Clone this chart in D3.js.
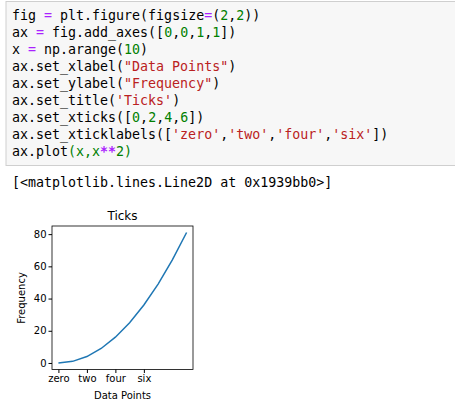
<!DOCTYPE html><html><head><script src="https://cdn.jsdelivr.net/npm/d3@7"></script>
<style>body{margin:0;background:#fff}</style></head><body><svg id="s" width="455" height="410"></svg>
<script>
const xs=[0,1,2,3,4,5,6,7,8,9];
const ys=[0,1,4,9,16,25,36,49,64,81];
const xtickVals=[0,2,4,6];
const xtickLabels=['zero','two','four','six'];
const ytickVals=[0,20,40,60,80];
const codeLines=[
 [["fig ","k"],["=","o"],[" plt.figure(figsize","k"],["=","o"],["(","k"],["2","n"],[",","k"],["2","n"],["))","k"]],
 [["ax ","k"],["=","o"],[" fig.add_axes([","k"],["0","n"],[",","k"],["0","n"],[",","k"],["1","n"],[",","k"],["1","n"],["])","k"]],
 [["x ","k"],["=","o"],[" np.arange(","k"],["10","n"],[")","k"]],
 [["ax.set_xlabel(","k"],["\"Data Points\"","s"],[")","k"]],
 [["ax.set_ylabel(","k"],["\"Frequency\"","s"],[")","k"]],
 [["ax.set_title(","k"],["'Ticks'","s"],[")","k"]],
 [["ax.set_xticks([","k"],["0","n"],[",","k"],["2","n"],[",","k"],["4","n"],[",","k"],["6","n"],["])","k"]],
 [["ax.set_xticklabels([","k"],["'zero'","s"],[",","k"],["'two'","s"],[",","k"],["'four'","s"],[",","k"],["'six'","s"],["])","k"]],
 [["ax.plot","k"],["(x,x","g"],["**","o"],["2)","g"]]
];
const col={k:"#000",o:"#AA22FF",n:"#008000",s:"#BA2121",g:"#008000"};
const svg=d3.select("#s");
svg.append("rect").attr("x",6).attr("y",1.5).attr("width",460).attr("height",164).attr("fill","#f7f7f7").attr("stroke","#cfcfcf");
codeLines.forEach((ln,i)=>{
 const t=svg.append("text").attr("x",12).attr("y",20+i*17).attr("font-family","DejaVu Sans Mono").attr("font-size",13.3).attr("xml:space","preserve");
 ln.forEach(([s,c])=>t.append("tspan").attr("fill",col[c]).attr("font-weight",c==="o"&&s==="**"?"bold":null).text(s));
});
svg.append("text").attr("x",12).attr("y",187).attr("font-family","DejaVu Sans Mono").attr("font-size",13.3).text("[<matplotlib.lines.Line2D at 0x1939bb0>]");
const x=d3.scaleLinear().domain([-0.45,9.45]).range([52,193]);
const y=d3.scaleLinear().domain([-4.05,85.05]).range([369.5,226]);
const g=svg.append("g").attr("font-family","DejaVu Sans");
g.append("g").attr("transform","translate(0,369.5)").call(d3.axisBottom(x).tickValues(xtickVals).tickFormat((d,i)=>xtickLabels[i]).tickSize(3.5).tickPadding(2)).call(a=>{a.select(".domain").remove();a.selectAll("text").attr("font-size",10).attr("font-family","DejaVu Sans").attr("fill","#000")});
g.append("g").attr("transform","translate(52,0)").call(d3.axisLeft(y).tickValues(ytickVals).tickSize(3.5).tickPadding(2)).call(a=>{a.select(".domain").remove();a.selectAll("text").attr("font-size",10).attr("font-family","DejaVu Sans").attr("fill","#000")});
g.append("rect").attr("x",52).attr("y",226).attr("width",141).attr("height",143.5).attr("fill","none").attr("stroke","#000").attr("stroke-width",0.8);
g.append("path").datum(xs).attr("fill","none").attr("stroke","#1f77b4").attr("stroke-width",1.5).attr("d",d3.line().x(d=>x(d)).y((d,i)=>y(ys[i])));
g.append("text").attr("x",122.5).attr("y",220).attr("text-anchor","middle").attr("font-size",12).text("Ticks");
g.append("text").attr("x",122.5).attr("y",399).attr("text-anchor","middle").attr("font-size",10).text("Data Points");
g.append("text").attr("transform","translate(25,298) rotate(-90)").attr("text-anchor","middle").attr("font-size",10).text("Frequency");
</script></body></html>
